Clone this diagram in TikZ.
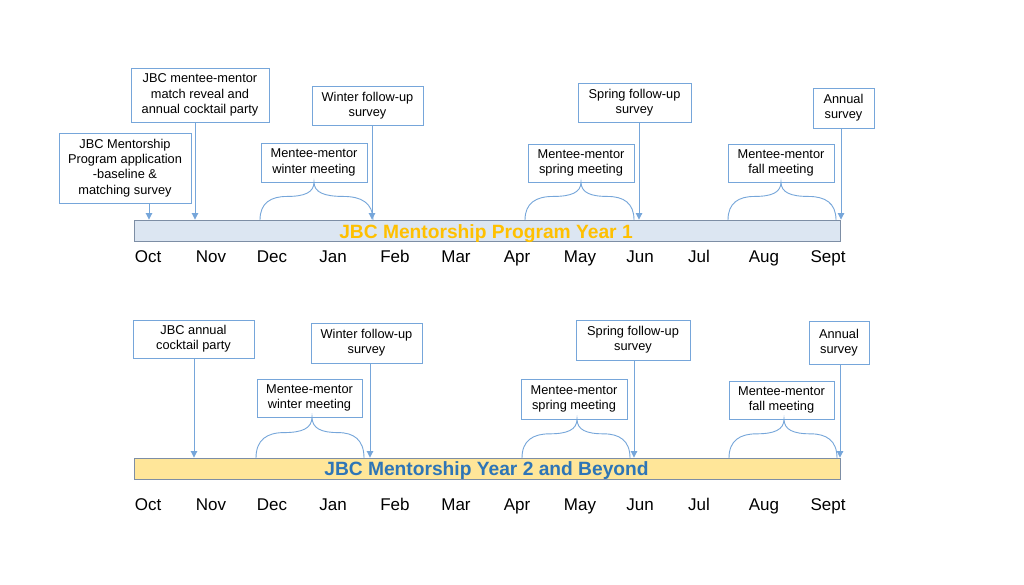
\documentclass[tikz,border=0pt]{standalone}
\usepackage{fontspec}
\setmainfont{Liberation Sans}
\usetikzlibrary{arrows.meta}
\definecolor{boxc}{RGB}{118,166,218}
\definecolor{barline}{RGB}{125,142,165}
\definecolor{barone}{RGB}{220,230,242}
\definecolor{bartwo}{RGB}{255,230,153}
\definecolor{gold}{RGB}{255,192,0}
\definecolor{titleblue}{RGB}{46,117,182}
\tikzset{
  evbox/.style={draw=boxc, line width=0.9pt, fill=white, align=center, inner sep=1pt,
    font=\fontsize{12.8}{15.2}\selectfont},
  conn/.style={draw=boxc, line width=0.9pt},
  arr/.style={conn, -{Triangle[width=6.5pt,length=6.5pt]}},
  barbox/.style={draw=barline, line width=0.9pt, minimum width=706pt, minimum height=21pt, inner sep=0pt},
  month/.style={font=\fontsize{17}{20}\selectfont, inner sep=0pt, anchor=base},
  bartitle/.style={font=\fontsize{19.2}{22}\bfseries, inner sep=0pt, anchor=base},
}
% brace: #1 left x, #2 tip x, #3 right x, #4 top y, #5 bottom y
\newcommand\mybrace[5]{%
  \draw[conn] (#1,#5)
    .. controls (#1,{#5-0.45*(#5-#4)}) and ({#1+0.2*(#2-#1)},{#5-0.62*(#5-#4)}) ..
    ({#1+0.5*(#2-#1)},{#5-0.62*(#5-#4)})
    .. controls ({#2-0.18*(#2-#1)},{#5-0.62*(#5-#4)}) and (#2,{#5-0.72*(#5-#4)}) ..
    (#2,#4)
    .. controls (#2,{#5-0.72*(#5-#4)}) and ({#2+0.18*(#3-#2)},{#5-0.62*(#5-#4)}) ..
    ({#2+0.5*(#3-#2)},{#5-0.62*(#5-#4)})
    .. controls ({#3-0.2*(#3-#2)},{#5-0.62*(#5-#4)}) and (#3,{#5-0.45*(#5-#4)}) ..
    (#3,#5);}
\begin{document}
\begin{tikzpicture}[x=1pt,y=-1pt]
\useasboundingbox[fill=white] (0,0) rectangle (1024,584);

% ---------------- Year 1 ----------------
\node[barbox, fill=barone] (bar1) at (487,230.5) {};
\node[bartitle, text=gold] (t1) at (486,238) {JBC Mentorship Program Year 1};

\node[evbox, minimum width=132pt, minimum height=70pt] (a1) at (125,168)
  {JBC Mentorship\\Program application\\-baseline \&\\matching survey};
\node[evbox, minimum width=138pt, minimum height=54pt] (a2) at (200,95)
  {JBC mentee-mentor\\match reveal and\\annual cocktail party};
\node[evbox, minimum width=106pt, minimum height=39pt] (a3) at (314,162.5)
  {Mentee-mentor\\winter meeting};
\node[evbox, minimum width=111pt, minimum height=39pt] (a4) at (367.5,105.5)
  {Winter follow-up\\survey};
\node[evbox, minimum width=106pt, minimum height=38pt] (a5) at (581,163)
  {Mentee-mentor\\spring meeting};
\node[evbox, minimum width=113pt, minimum height=39pt] (a6) at (634.5,102.5)
  {Spring follow-up\\survey};
\node[evbox, minimum width=106pt, minimum height=38pt] (a7) at (781,163)
  {Mentee-mentor\\fall meeting};
\node[evbox, minimum width=61pt, minimum height=40pt] (a8) at (843.5,108)
  {Annual\\survey};

\coordinate (xa1) at (149,0);
\coordinate (xa2) at (195,0);
\coordinate (xa4) at (372,0);
\coordinate (xa6) at (639,0);
\coordinate (xa8) at (841,0);
\draw[arr] (a1.south -| xa1) -- (bar1.north -| xa1);
\draw[arr] (a2.south -| xa2) -- (bar1.north -| xa2);
\draw[arr] (a4.south -| xa4) -- (bar1.north -| xa4);
\draw[arr] (a6.south -| xa6) -- (bar1.north -| xa6);
\draw[arr] (a8.south -| xa8) -- (bar1.north -| xa8);

\mybrace{260}{314}{373}{182}{220}
\mybrace{525}{581}{634}{182}{220}
\mybrace{728}{781}{836}{182}{220}

\foreach \m/\x [count=\i] in {Oct/148,Nov/211,Dec/272,Jan/333,Feb/395,Mar/456,Apr/517,May/580,Jun/640,Jul/699,Aug/764,Sept/828}
  \node[month] (m1-\i) at (\x,262) {\m};

% ---------------- Year 2 ----------------
\node[barbox, fill=bartwo] (bar2) at (487,468.5) {};
\node[bartitle, text=titleblue] (t2) at (486.5,475.5) {JBC Mentorship Year 2 and Beyond};

\node[evbox, minimum width=121pt, minimum height=38pt] (c1) at (193.5,339)
  {JBC annual\\cocktail party};
\node[evbox, minimum width=111pt, minimum height=40pt] (c2) at (366.5,343)
  {Winter follow-up\\survey};
\node[evbox, minimum width=105pt, minimum height=38pt] (c3) at (309.5,398)
  {Mentee-mentor\\winter meeting};
\node[evbox, minimum width=114pt, minimum height=40pt] (c4) at (633,340)
  {Spring follow-up\\survey};
\node[evbox, minimum width=106pt, minimum height=40pt] (c5) at (574,399)
  {Mentee-mentor\\spring meeting};
\node[evbox, minimum width=105pt, minimum height=38pt] (c6) at (781.5,400)
  {Mentee-mentor\\fall meeting};
\node[evbox, minimum width=60pt, minimum height=43pt] (c7) at (839,342.5)
  {Annual\\survey};

\coordinate (xc1) at (194,0);
\coordinate (xc2) at (370,0);
\coordinate (xc4) at (634,0);
\coordinate (xc7) at (840,0);
\draw[arr] (c1.south -| xc1) -- (bar2.north -| xc1);
\draw[arr] (c2.south -| xc2) -- (bar2.north -| xc2);
\draw[arr] (c4.south -| xc4) -- (bar2.north -| xc4);
\draw[arr] (c7.south -| xc7) -- (bar2.north -| xc7);

\mybrace{256}{312}{364}{417}{458}
\mybrace{522}{577}{630}{419}{458}
\mybrace{729}{784}{837}{419}{458}

\foreach \m/\x [count=\i] in {Oct/148,Nov/211,Dec/272,Jan/333,Feb/395,Mar/456,Apr/517,May/580,Jun/640,Jul/699,Aug/764,Sept/828}
  \node[month] (m2-\i) at (\x,510) {\m};
\end{tikzpicture}
\end{document}
